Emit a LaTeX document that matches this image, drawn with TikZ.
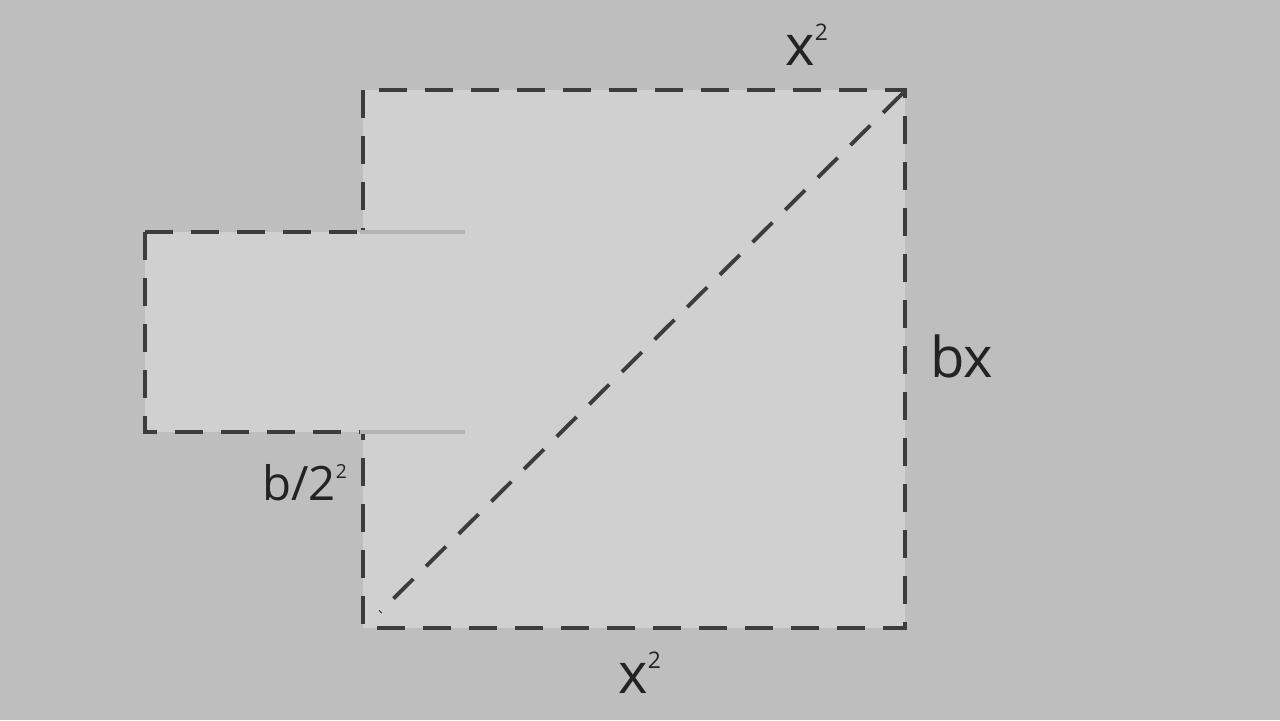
\documentclass[tikz,border=0pt]{standalone}
\usepackage{fontspec}
\setmainfont{Open Sans}
\usetikzlibrary{positioning}
\definecolor{bggray}{RGB}{189,190,189}
\definecolor{boxgray}{RGB}{207,208,207}
\definecolor{linegray}{RGB}{60,60,60}
\definecolor{fadegray}{RGB}{178,179,178}
\definecolor{inkgray}{RGB}{35,35,35}
\newcommand{\supsq}[2]{\raisebox{#1}{\fontsize{#2}{#2}\selectfont 2}}

\begin{document}
\begin{tikzpicture}[
    x=0.02cm, y=-0.02cm,
    edge/.style={draw=linegray, line width=2.2pt, dash pattern=on 0.56cm off 0.36cm},
    lbl/.style={anchor=base west, inner sep=0pt, text=inkgray, font=\fontsize{32}{32}\selectfont},
    small/.style={lbl, font=\fontsize{27}{27}\selectfont}
]
    % Background
    \fill[bggray] (0,0) rectangle (1280,720);
    \useasboundingbox (0,0) rectangle (1280,720);

    % Big square
    \coordinate (sqNW) at (363,90);
    \coordinate (sqSE) at (905,628);
    \coordinate (diagA) at (380,612);
    \coordinate (diagB) at (903,93);
    \fill[boxgray] (sqNW) rectangle (sqSE);
    \draw[edge] (sqNW) rectangle (sqSE);
    \draw[edge] (diagB) -- (diagA);

    % Left strip
    \coordinate (stNW) at (145,232);
    \coordinate (stSW) at (145,432);
    \coordinate (stNE) at (360,232);
    \coordinate (stSE) at (360,432);
    \coordinate (fadeN) at (465,232);
    \coordinate (fadeS) at (465,432);
    \fill[boxgray] (stNW) rectangle (fadeS);
    \draw[edge] (stNW) -- (stNE);
    \draw[edge] (stNW) -- (stSW) -- (stSE);
    \draw[fadegray, line width=2.2pt] (stNE) -- (fadeN);
    \draw[fadegray, line width=2.2pt] (stSE) -- (fadeS);

    % Labels
    \node[lbl] (xTop) at (785,65) {x\supsq{14pt}{13}};
    \node[lbl] (bx) at (930,377) {bx};
    \node[lbl] (xBot) at (618,693) {x\supsq{14pt}{13}};
    \node[small] (bHalf) at (262,500) {b/2\supsq{12pt}{11}};
\end{tikzpicture}
\end{document}
